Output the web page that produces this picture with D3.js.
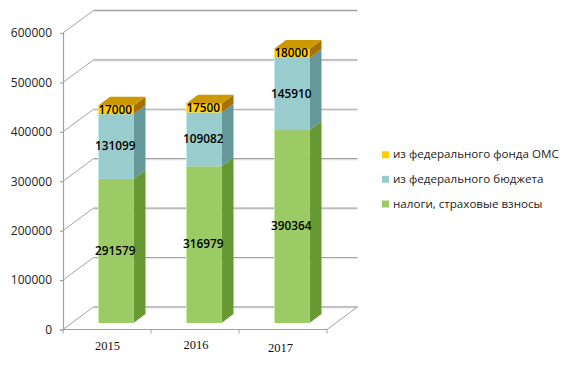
<!DOCTYPE html>
<html><head><meta charset="utf-8">
<script src="https://cdn.jsdelivr.net/npm/d3@7"></script>
<style>html,body{margin:0;padding:0;background:#fff}svg{display:block}</style>
</head><body><svg id="c" width="573" height="370"></svg>
<script>
const categories = ["2015","2016","2017"];
const taxes = [291579,316979,390364];
const budget = [131099,109082,145910];
const fund = [17000,17500,18000];
const yTicks = [0,100000,200000,300000,400000,500000,600000];
const seriesNames = ["налоги, страховые взносы","из федерального бюджета","из федерального фонда ОМС"];
const fronts = ["#9bcb65","#99cccd","#ffcc00"];
const sides = ["#669933","#659999","#a87000"];
const topColor = "#cc9900";
const edges = ["#c8ec98","#c4e8f0","#ffdd55"];

const svg = d3.select("#c");
const x0=63,x1=327,y0=329.5,y6=33,depthX=30.5,depthY=22.6;
const x = d3.scaleBand().domain(categories).range([x0,x1]);
const y = d3.scaleLinear().domain([0,600000]).range([y0,y6]);
const gridCol="#a3a3a3";

// back wall and side wall gridlines
yTicks.forEach(t=>{
  const yy=y(t);
  svg.append("line").attr("x1",x0+depthX).attr("x2",x1+depthX).attr("y1",yy-depthY+1.2).attr("y2",yy-depthY+1.2).attr("stroke","#e6e6e6").attr("stroke-width",1);
  svg.append("line").attr("x1",x0+depthX).attr("x2",x1+depthX).attr("y1",yy-depthY).attr("y2",yy-depthY).attr("stroke",gridCol).attr("stroke-width",1.2);
  svg.append("line").attr("x1",x0).attr("x2",x0+depthX).attr("y1",yy).attr("y2",yy-depthY).attr("stroke",gridCol).attr("stroke-width",1);
});
// floor right edge
svg.append("line").attr("x1",x1).attr("x2",x1+depthX).attr("y1",y0).attr("y2",y0-depthY).attr("stroke",gridCol);

// y axis
const gy=svg.append("g").attr("transform",`translate(${x0},0)`).call(d3.axisLeft(y).tickValues(yTicks).tickFormat(d3.format("d")).tickSize(3).tickPadding(8));
gy.selectAll("text").attr("font-family","'Open Sans'").attr("font-size",12).attr("fill","#222");
gy.selectAll("line,path").attr("stroke","#a0a0a0").attr("stroke-width",1.2);

// x axis
const gx=svg.append("g").attr("transform",`translate(0,${y0})`).call(d3.axisBottom(x).tickSize(0).tickPadding(10));
gx.select("path").remove();
gx.selectAll("text").attr("font-family","'Liberation Serif'").attr("font-size",12.5).attr("fill","#111");
const labelNudge=[1.5,0.5,4];
gx.selectAll("text").attr("y",(d,i)=>10+labelNudge[i]).attr("dx",(d,i)=>[0.5,1,-2.5][i]);
svg.append("g").attr("stroke","#a0a0a0").selectAll("line").data(x.domain().map(d=>x(d)).concat(x1)).join("line")
  .attr("x1",d=>d).attr("x2",d=>d).attr("y1",y0).attr("y2",y0+4);
svg.append("line").attr("x1",x0).attr("x2",x1).attr("y1",y0).attr("y2",y0).attr("stroke","#a0a0a0").attr("stroke-width",1.2);

// stacked 3D bars
const rows=categories.map((c,i)=>({c,a:taxes[i],b:budget[i],f:fund[i]}));
const stack=d3.stack().keys(["a","b","f"])(rows);
const barOff=35,barW=35.5,barDX=12,barDY=9,baseShift=6.5;
const yb=v=>y(v)-baseShift;
stack.forEach((s,k)=>{
  const g=svg.append("g");
  s.forEach(d=>{
    const l=x(d.data.c)+barOff,r=l+barW,t=yb(d[1]),b=yb(d[0]);
    g.append("polygon").attr("points",[[r,b],[r+barDX,b-barDY],[r+barDX,t-barDY],[r,t]].join(" ")).attr("fill",sides[k]);
    g.append("rect").attr("x",l).attr("y",t).attr("width",barW).attr("height",b-t).attr("fill",fronts[k]);
    g.append("rect").attr("x",l).attr("y",t).attr("width",1).attr("height",b-t).attr("fill",edges[k]);
    if(k===2) g.append("polygon").attr("points",[[l,t],[l+barDX,t-barDY],[r+barDX,t-barDY],[r,t]].join(" ")).attr("fill",topColor);
  });
});
// data labels
stack.forEach(s=>{
  s.forEach(d=>{
    svg.append("text").text(d[1]-d[0])
      .attr("x",x(d.data.c)+barOff+barW/2-0.5).attr("y",yb((d[0]+d[1])/2)+0.5)
      .attr("text-anchor","middle").attr("dominant-baseline","middle")
      .attr("font-family","'Open Sans'").attr("font-weight",600).attr("font-size",11.8).attr("fill","#000");
  });
});

// legend
const legendY=d3.scalePoint().domain([2,1,0]).range([154.7,204]);
[2,1,0].forEach(i=>{
  svg.append("rect").attr("x",382).attr("y",legendY(i)-3.5).attr("width",7).attr("height",7).attr("fill",fronts[i]);
  svg.append("text").text(seriesNames[i]).attr("x",393).attr("y",legendY(i)+0.5).attr("dominant-baseline","middle")
    .attr("font-family","'Open Sans'").attr("font-size",11.6).attr("fill","#222");
});
</script></body></html>
